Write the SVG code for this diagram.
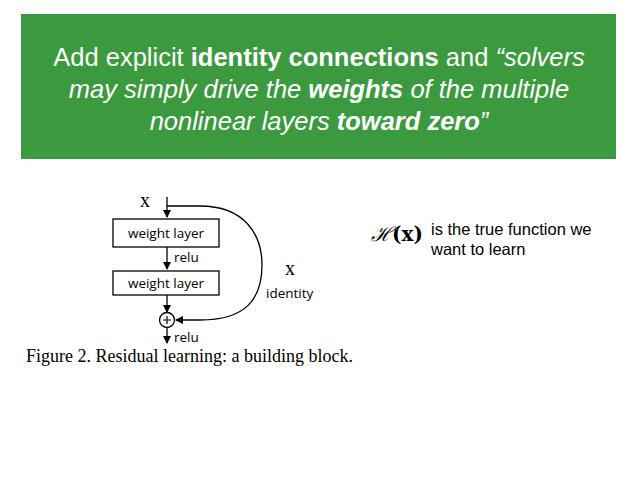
<svg xmlns="http://www.w3.org/2000/svg" width="638" height="479" viewBox="0 0 638 479">
<style>
.h{font-family:"Liberation Sans",Arial,sans-serif;font-size:25.5px;fill:#fff;text-anchor:middle}
.b{font-weight:bold}
.box{fill:#fff;stroke:#000;stroke-width:1.3}
.l{font-family:"Open Sans","DejaVu Sans",sans-serif;font-size:13.5px;fill:#000}
.c{stroke:#000;stroke-width:1.3;fill:none}
</style>
<defs><marker id="a" markerWidth="8" markerHeight="8" refX="7" refY="4" orient="auto" markerUnits="userSpaceOnUse"><path d="M0,0 L8,4 L0,8 z" fill="#000"/></marker></defs>
<rect x="0" y="0" width="638" height="479" fill="#fff"/>
<g id="banner">
<rect x="21" y="14" width="595" height="145" fill="#3b9a3e"/>
<text class="h" x="319" y="66">Add explicit <tspan class="b">identity connections</tspan> and <tspan font-style="italic">“solvers</tspan></text>
<text class="h" x="319" y="98" font-style="italic">may simply drive the <tspan class="b">weights</tspan> of the multiple</text>
<text class="h" x="319" y="130" font-style="italic">nonlinear layers <tspan class="b">toward zero</tspan>”</text>
</g>
<g id="connectors">
<path class="c" d="M167,197 V217" marker-end="url(#a)"/>
<path class="c" d="M167,247 V269" marker-end="url(#a)"/>
<path class="c" d="M167,295 V312" marker-end="url(#a)"/>
<path class="c" d="M167,328 V343" marker-end="url(#a)"/>
<path class="c" d="M167,206 H200 C245,206 262,235 262,265 C262,300 245,320 200,320 H176" marker-end="url(#a)"/>
</g>
<g id="x-top"><text x="140" y="207" font-family="Liberation Serif,serif" font-size="20">x</text></g>
<g id="layer1"><rect class="box" x="113" y="219" width="106" height="28"/><text class="l" x="166" y="238" text-anchor="middle">weight layer</text></g>
<g id="relu1"><text class="l" x="174" y="262">relu</text></g>
<g id="layer2"><rect class="box" x="113" y="271" width="106" height="24"/><text class="l" x="166" y="288" text-anchor="middle">weight layer</text></g>
<g id="plus"><circle cx="167" cy="320" r="7.5" fill="#fff" stroke="#000" stroke-width="1.3"/><path d="M163,320 H171 M167,316 V324" stroke="#000" stroke-width="1.2"/></g>
<g id="relu2"><text class="l" x="174" y="342">relu</text></g>
<g id="identity"><text x="285" y="275" font-family="Liberation Serif,serif" font-size="20">x</text><text class="l" x="266" y="298">identity</text></g>
<text x="26" y="362" font-family="Liberation Serif,serif" font-size="18">Figure 2. Residual learning: a building block.</text>
<g id="hx">
<text x="371" y="241" font-family="DejaVu Serif,serif" font-size="20" font-style="italic">ℋ<tspan font-style="normal" font-weight="bold">(x)</tspan></text>
<text x="431" y="235" font-family="Liberation Sans,Arial,sans-serif" font-size="16.5">is the true function we</text>
<text x="431" y="255" font-family="Liberation Sans,Arial,sans-serif" font-size="16.5">want to learn</text>
</g>
</svg>
